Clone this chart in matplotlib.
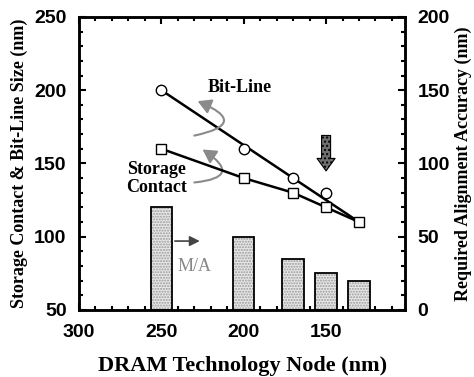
import numpy as np
import matplotlib.pyplot as plt
from matplotlib.ticker import MultipleLocator

# technology nodes (nm)
bar_nodes = [250, 200, 170, 150, 130]
ma_values = [70, 50, 35, 25, 20]          # right axis, required alignment accuracy

bit_nodes = [250, 200, 170, 150]
bit_size = [200, 160, 140, 130]
bit_fit_x = [250, 130]
bit_fit_y = [200, 110]

sc_nodes = [250, 200, 170, 150, 130]
sc_size = [160, 140, 130, 120, 110]

serif = "Liberation Serif"
sans = "Liberation Sans"
plt.rcParams["font.family"] = sans
plt.rcParams["font.weight"] = "bold"

fig = plt.figure(figsize=(4.74, 3.77), dpi=100)
ax = fig.add_axes([0.1667, 0.178, 0.688, 0.777])
ax2 = ax.twinx()

ax.set_xlim(300, 102)
ax.set_ylim(50, 250)
ax2.set_ylim(0, 200)

# bars on the right axis (fill + dotted texture, then black outline)
ax2.bar(bar_nodes, ma_values, width=13, color="#e8e8e8", hatch="......",
        edgecolor="#9a9a9a", linewidth=0, zorder=1)
ax2.bar(bar_nodes, ma_values, width=13, fill=False, edgecolor="black",
        linewidth=1.3, zorder=2)

# left-axis series drawn on the right scale (right = left - 50)
ax2.plot(bit_fit_x, np.array(bit_fit_y) - 50, color="black", lw=1.8, zorder=3)
ax2.plot(bit_nodes, np.array(bit_size) - 50, "o", ms=7.5, mfc="white",
         mec="black", mew=1.0, zorder=4)
ax2.plot(sc_nodes, np.array(sc_size) - 50, "-s", color="black", lw=1.8, ms=7.5,
         mfc="white", mec="black", mew=1.0, zorder=4)

# annotations
ax2.text(222, 152, "Bit-Line", fontfamily=serif, fontweight="bold",
         fontsize=13, ha="left", va="center")
ax2.text(253, 89.5, "Storage\nContact", fontfamily=serif, fontweight="bold",
         fontsize=13, ha="center", va="center", linespacing=1.05)
ax2.text(230, 29.5, "M/A", fontfamily=serif, fontweight="normal", fontsize=13,
         color="#888888", ha="center", va="center")

# curved arrows toward left axis
ax2.annotate("", xy=(228, 142.5), xytext=(230, 119),
             arrowprops=dict(arrowstyle="-|>,head_width=0.45,head_length=0.8",
                             color="#8a8a8a", lw=1.5, shrinkA=0, shrinkB=0,
                             connectionstyle="arc3,rad=1.6"))
ax2.annotate("", xy=(225, 109.5), xytext=(230, 87),
             arrowprops=dict(arrowstyle="-|>,head_width=0.45,head_length=0.8",
                             color="#8a8a8a", lw=1.5, shrinkA=0, shrinkB=0,
                             connectionstyle="arc3,rad=1.4"))

# M/A arrow pointing to right axis
ax2.annotate("", xy=(225, 47), xytext=(243.5, 47),
             arrowprops=dict(arrowstyle="-|>,head_width=0.3,head_length=0.6",
                             color="#444444", lw=1.2))

# thick down arrow
ax2.annotate("", xy=(150, 93), xytext=(150, 121),
             arrowprops=dict(arrowstyle="simple,head_width=1.3,head_length=0.9,tail_width=0.65",
                             fc="#6f6f6f", ec="black", lw=0.8, hatch="...."))

# axes styling
for a in (ax, ax2):
    for s in a.spines.values():
        s.set_linewidth(1.8)

ax.xaxis.set_major_locator(MultipleLocator(50))
ax.xaxis.set_minor_locator(MultipleLocator(10))
ax.yaxis.set_major_locator(MultipleLocator(50))
ax.yaxis.set_minor_locator(MultipleLocator(10))
ax2.yaxis.set_major_locator(MultipleLocator(50))
ax2.yaxis.set_minor_locator(MultipleLocator(10))

ax.tick_params(which="both", direction="in", top=True, width=1.5, labelsize=14)
ax.tick_params(which="major", length=5)
ax.tick_params(which="minor", length=3)
ax.tick_params(axis="x", which="major", pad=10)
ax.tick_params(axis="y", which="major", pad=9)
ax2.tick_params(which="both", direction="in", width=1.5, labelsize=14)
ax2.tick_params(which="major", length=5, pad=9)
ax2.tick_params(which="minor", length=3)

ax.set_xlabel("DRAM Technology Node (nm)", fontfamily=serif, fontweight="bold",
              fontsize=16, labelpad=11)
ax.set_ylabel("Storage Contact & Bit-Line Size (nm)", fontfamily=serif,
              fontweight="bold", fontsize=13, labelpad=4)
ax2.set_ylabel("Required Alignment Accuracy (nm)", fontfamily=serif,
               fontweight="bold", fontsize=13, labelpad=3)

fig.savefig("out.png", dpi=100)
